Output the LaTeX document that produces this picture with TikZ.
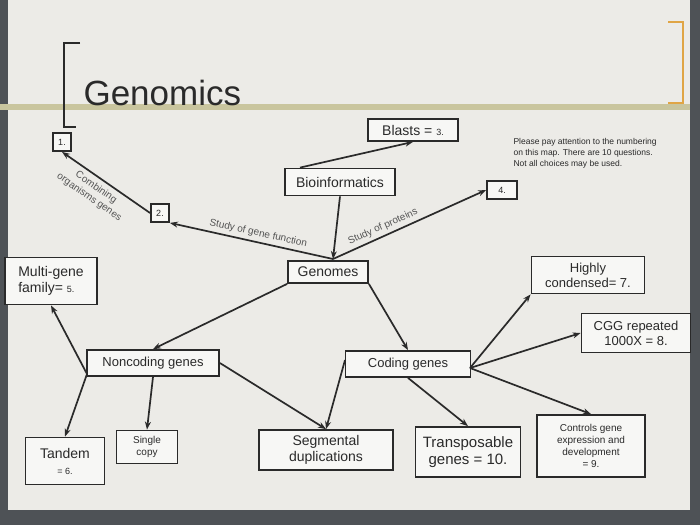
\documentclass[tikz,border=0pt]{standalone}
\usepackage{fontspec}
\setmainfont{Liberation Sans}
\usetikzlibrary{arrows.meta}
\definecolor{slide}{HTML}{ECEBE7}
\definecolor{frame}{HTML}{4E5256}
\definecolor{olive}{HTML}{C9C59E}
\definecolor{bracket}{HTML}{E0A545}
\definecolor{ink}{HTML}{2A2A2A}
\tikzset{
  box/.style={draw=ink,line width=1.8pt,fill=white!60!slide,align=center,inner sep=3pt,text=ink},
  con/.style={draw=ink,line width=1.7pt,-{Stealth[length=8pt,width=6pt]}},
  lab/.style={font=\fontsize{10}{12}\selectfont,text=ink!80,sloped}
}
\begin{document}
\begin{tikzpicture}[x=1pt,y=-1pt]
\useasboundingbox (0,0) rectangle (700,525);
\fill[frame] (0,0) rectangle (700,525);
\fill[slide] (8,0) rectangle (690,510);
\fill[olive] (0,104) rectangle (690,110);
% title and brackets
\node[anchor=base west,font=\fontsize{35}{36}\selectfont,text=ink] (title) at (80,105) {Genomics};
\draw[ink,line width=2pt] (80,43) -- (64,43) -- (64,127) -- (76,127);
\draw[bracket,line width=2pt] (668,22) -- (683,22) -- (683,103) -- (668,103);
\node[anchor=north west,align=left,font=\fontsize{8.5}{11}\selectfont,text=ink] (note) at (510,135)
  {Please pay attention to the numbering\\on this map. There are 10 questions.\\Not all choices may be used.};
% nodes
\node[box,font=\small,minimum width=18pt,minimum height=18pt] (q1) at (62,142) {1.};
\node[box,font=\small,minimum width=18pt,minimum height=18pt] (q2) at (160,213) {2.};
\node[box,font=\small,minimum width=30pt,minimum height=18pt] (q4) at (502,190) {4.};
\node[box,font=\fontsize{14}{16}\selectfont,minimum width=90pt,minimum height=22pt] (blasts) at (413,130) {Blasts = {\small 3.}};
\node[box,font=\fontsize{14}{16}\selectfont,minimum width=110pt,minimum height=27pt] (bioinf) at (340,182) {Bioinformatics};
\node[box,font=\fontsize{14}{16}\selectfont,minimum width=80pt,minimum height=22pt] (genomes) at (328,272) {Genomes};
\node[box,font=\fontsize{14}{16}\selectfont,align=left,minimum width=92pt,minimum height=47pt] (multi) at (51,281) {Multi-gene\\family= {\small 5.}};
\node[box,font=\fontsize{13}{15}\selectfont,minimum width=113pt,minimum height=37pt] (highly) at (588,275) {Highly\\condensed= 7.};
\node[box,font=\fontsize{13}{15}\selectfont,minimum width=109pt,minimum height=39pt] (cgg) at (636,333) {CGG repeated\\1000X = 8.};
\node[box,font=\fontsize{13}{15}\selectfont,minimum width=132pt,minimum height=26pt] (noncod) at (153,363) {Noncoding genes};
\node[box,font=\fontsize{13}{15}\selectfont,minimum width=125pt,minimum height=26pt] (coding) at (408,364) {Coding genes};
\node[box,font=\fontsize{14}{16}\selectfont,minimum width=79pt,minimum height=47pt] (tandem) at (65,461) {Tandem\\{\small = 6.}};
\node[box,font=\fontsize{10}{12}\selectfont,minimum width=61pt,minimum height=33pt] (single) at (147,447) {Single\\copy};
\node[box,font=\fontsize{14}{16}\selectfont,minimum width=134pt,minimum height=40pt] (segm) at (326,450) {Segmental\\duplications};
\node[box,font=\fontsize{15}{17}\selectfont,minimum width=105pt,minimum height=50pt] (transp) at (468,452) {Transposable\\genes = 10.};
\node[box,font=\fontsize{10}{12}\selectfont,minimum width=108pt,minimum height=62pt] (controls) at (591,446) {Controls gene\\expression and\\development\\= 9.};
% joints
\coordinate (gtop) at (333,259);
\coordinate (njoin) at (87,374);
\coordinate (cjoin) at (470,368);
\coordinate (cleft) at (345,360);
% connectors
\draw[con] (bioinf.north) ++(-40,0) coordinate (bstart) -- (blasts.south);
\draw[con] (bioinf.south) -- (gtop);
\draw[con] (gtop) -- node[lab,above,pos=0.47] {Study of gene function} (q2.south east);
\draw[con] (q2.west) -- node[lab,below=1pt,align=center,pos=0.55] {Combining\\organisms genes} (q1.south);
\draw[con] (gtop) -- node[lab,above,pos=0.35] {Study of proteins} (q4.west);
\draw[con] (genomes.south west) -- (noncod.north);
\draw[con] (genomes.south east) -- (coding.north);
\draw[con] (njoin) -- (multi.south);
\draw[con] (njoin) -- (tandem.north);
\draw[con] (noncod.south) -- (single.north);
\draw[con] (noncod.east) -- (segm.north);
\draw[con] (cleft) -- (segm.north);
\draw[con] (coding.south) -- (transp.north);
\draw[con] (cjoin) -- (controls.north);
\draw[con] (cjoin) -- (highly.south west);
\draw[con] (cjoin) -- (cgg.west);
\end{tikzpicture}
\end{document}
